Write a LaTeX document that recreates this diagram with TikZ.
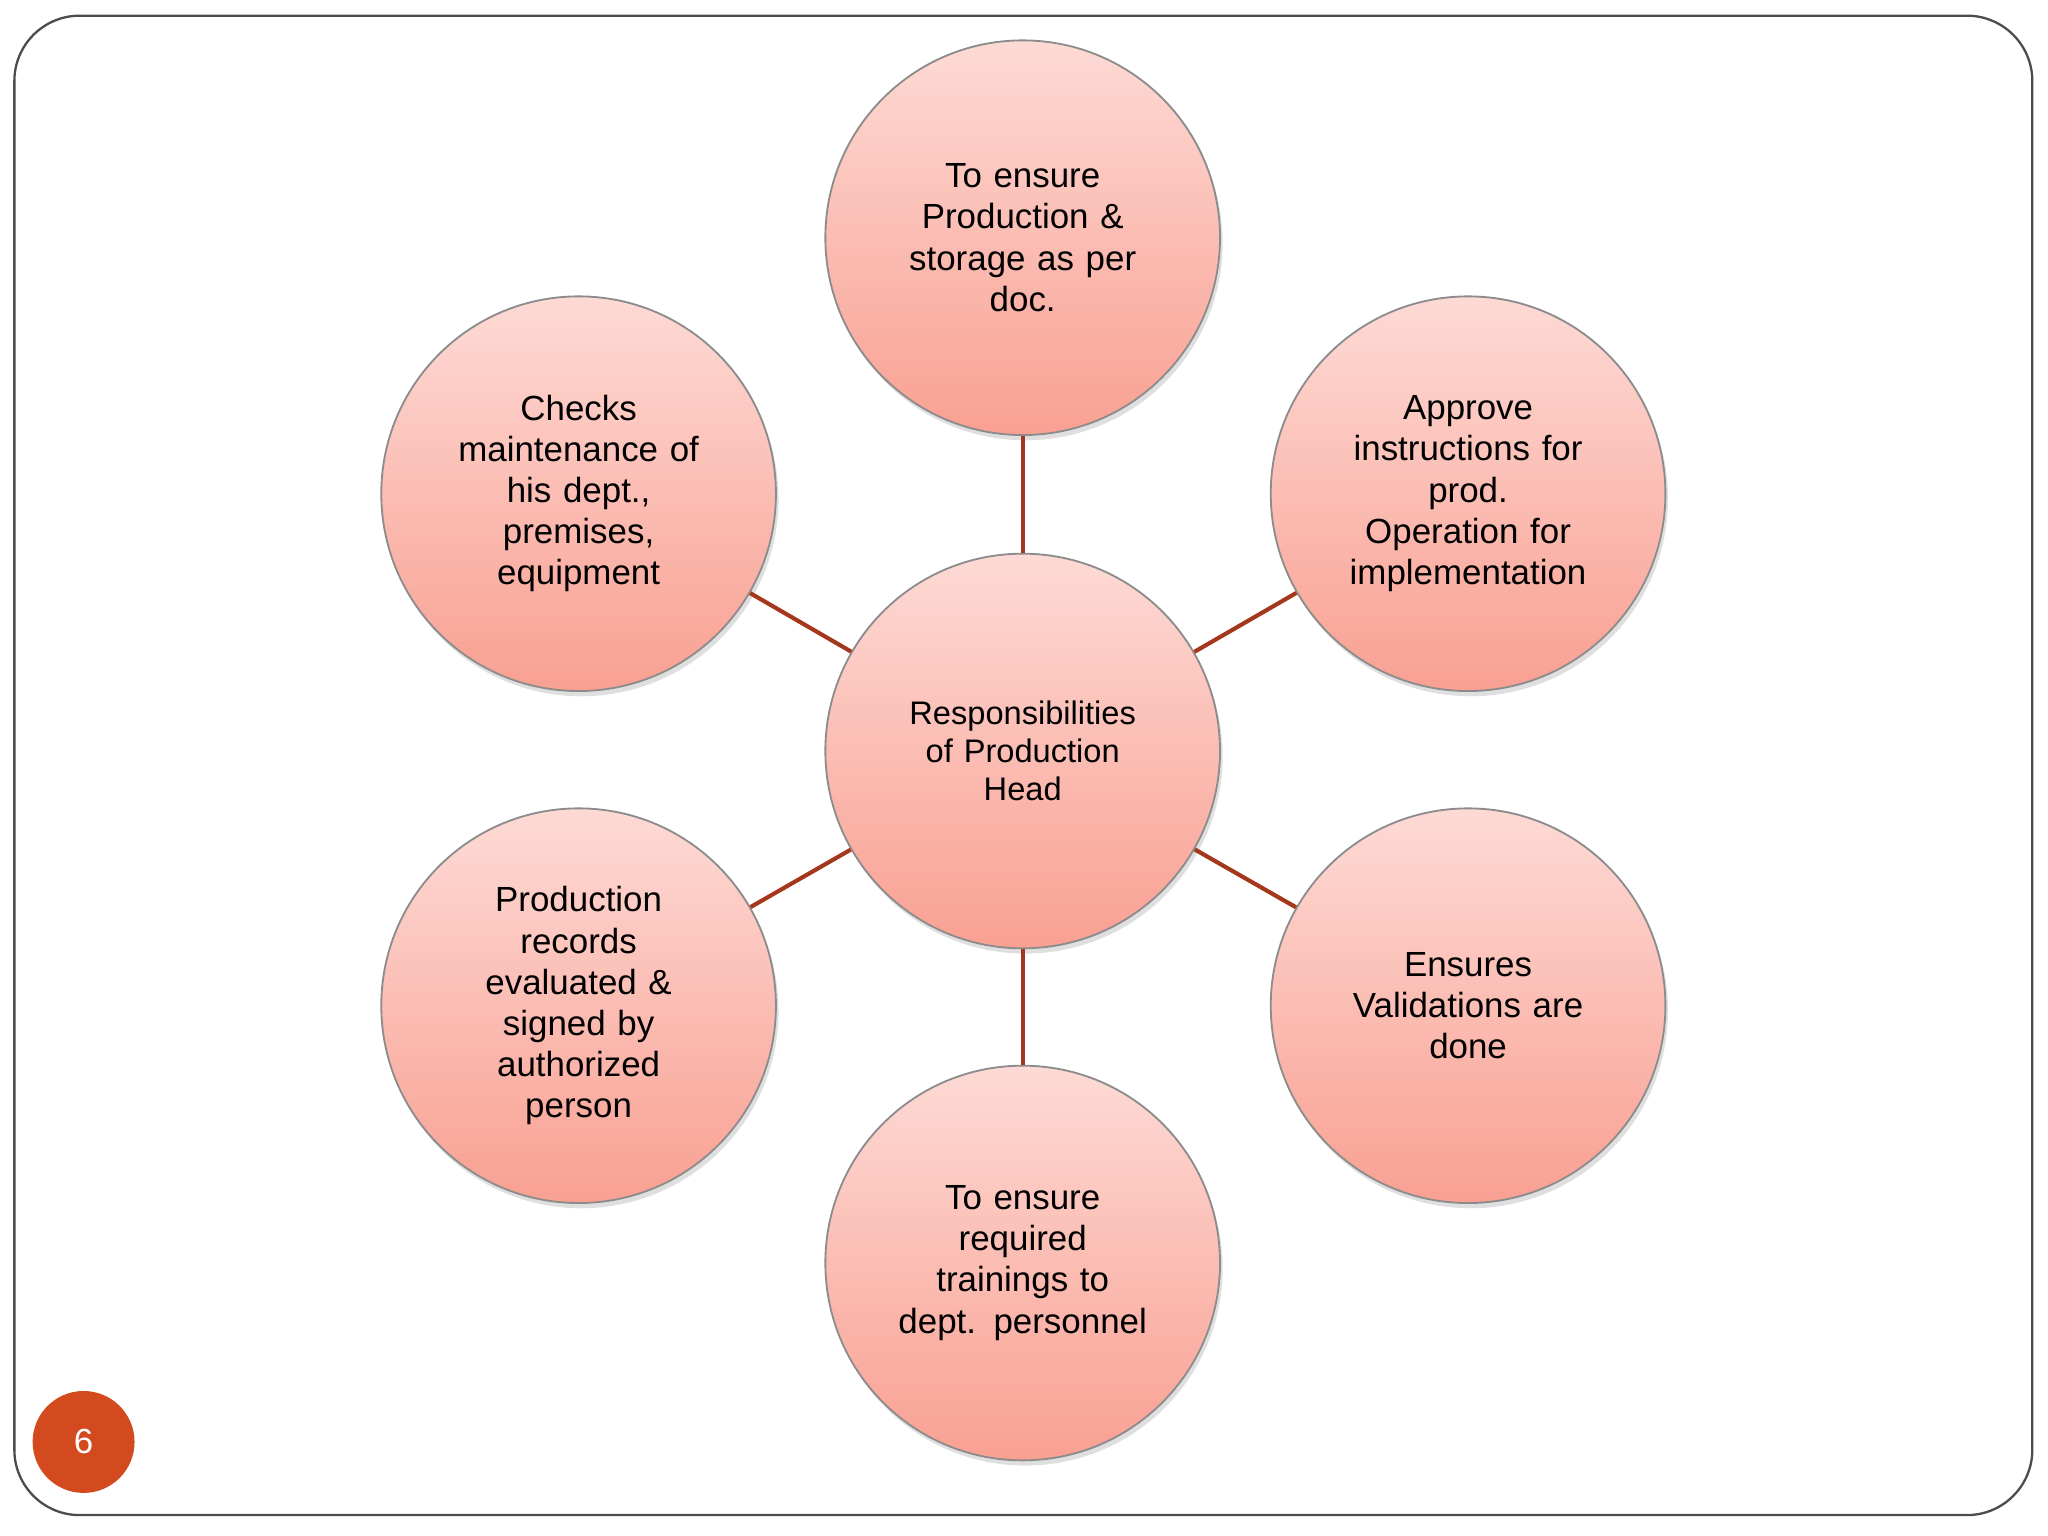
\documentclass[tikz,border=0pt]{standalone}
\usepackage{fontspec}
\setmainfont{Liberation Sans}
\usetikzlibrary{shadows}
\definecolor{pinktop}{HTML}{FDDAD5}
\definecolor{pinkbot}{HTML}{F9A092}
\definecolor{linkc}{HTML}{A5381C}
\definecolor{numc}{HTML}{D34A1E}
\tikzset{
  bub/.style={circle,minimum size=3.02cm,inner sep=0pt,draw=black!45,line width=0.4pt,
    top color=pinktop,bottom color=pinkbot,align=center,text width=2.3cm,
    font=\fontsize{7.6pt}{8.95pt}\selectfont,
    drop shadow={shadow xshift=0.02cm,shadow yshift=-0.04cm,opacity=0.25}},
  ctr/.style={bub,font=\fontsize{7.1pt}{8.3pt}\selectfont},
  link/.style={draw=linkc,line width=0.9pt}
}
\begin{document}
\begin{tikzpicture}[x=0.01cm,y=-0.01cm]
\useasboundingbox (0,0) rectangle (1568,1176);
\draw[black!70,line width=0.5pt,rounded corners=0.5cm] (11,12) rectangle (1556,1160);
\node[ctr] (c) at (783,575) {Responsibilities\\of Production\\Head};
\node[bub] (t) at (783,182) {To ensure\\Production \&\\storage as per\\doc.};
\node[bub] (ur) at (1124,378) {Approve\\instructions for\\prod.\\Operation for\\implementation};
\node[bub] (lr) at (1124,770) {Ensures\\Validations are\\done};
\node[bub] (b) at (783,967) {To ensure\\required\\trainings to\\dept. personnel};
\node[bub] (ll) at (443,770) {Production\\records\\evaluated \&\\signed by\\authorized\\person};
\node[bub] (ul) at (443,378) {Checks\\maintenance of\\his dept.,\\premises,\\equipment};
\foreach \n in {t,ur,lr,b,ll,ul} \draw[link] (c) -- (\n);
\node[circle,fill=numc,minimum size=0.78cm,inner sep=0pt,text=white,font=\fontsize{7.6pt}{9pt}\selectfont] (pg) at (64,1104) {6};
\end{tikzpicture}
\end{document}
